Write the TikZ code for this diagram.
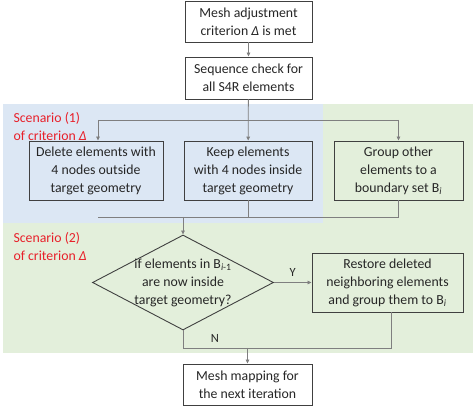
\documentclass[tikz,border=0pt]{standalone}
\usepackage{fontspec}
\setmainfont{Carlito}
\usetikzlibrary{shapes.geometric,arrows.meta}
\definecolor{bluebg}{HTML}{DCE7F4}
\definecolor{greenbg}{HTML}{E3EFDB}
\definecolor{boxline}{HTML}{404040}
\definecolor{conn}{HTML}{7F7F7F}
\definecolor{txt}{HTML}{262626}
\definecolor{redtxt}{HTML}{E8202A}
\tikzset{
  every node/.style={font=\fontsize{13.8}{18}\selectfont, text=txt},
  procbox/.style={draw=boxline, line width=0.9pt, align=center, inner sep=0pt},
  whitebox/.style={procbox, fill=white},
  decision/.style={draw=boxline, line width=0.9pt, diamond, aspect=1.9, inner sep=0pt, align=center},
  conline/.style={draw=conn, line width=0.8pt},
  conarrow/.style={conline, -{Triangle[length=4pt,width=3.6pt]}},
  scen/.style={text=redtxt, align=left, anchor=north west},
  lbl/.style={font=\fontsize{12.5}{15}\selectfont}
}
\begin{document}
\begin{tikzpicture}[x=1pt,y=-1pt]
\useasboundingbox (0,0) rectangle (474,411);
% backgrounds
\fill[greenbg] (3,104) rectangle (473,353);
\fill[bluebg] (3,104) rectangle (323,223);
% nodes
\node[whitebox, minimum width=127pt, minimum height=41pt] (start) at (248.5,21.5) {Mesh adjustment\\criterion \textit{Δ} is met};
\node[whitebox, minimum width=127pt, minimum height=42pt] (seq) at (248.5,78) {Sequence check for\\all S4R elements};
\node[procbox, minimum width=134pt, minimum height=59pt] (del) at (96,170.5) {Delete elements with\\4 nodes outside\\target geometry};
\node[procbox, minimum width=128pt, minimum height=59pt] (keep) at (248,170.5) {Keep elements\\with 4 nodes inside\\target geometry};
\node[procbox, minimum width=129pt, minimum height=59pt] (grp) at (398.5,170.5) {Group other\\elements to a\\boundary set B\textsubscript{\textit{i}}};
\node[decision, minimum width=181pt, minimum height=95pt] (dec) at (183,282.5) {};
\node[align=center] (dectxt) at (183,282.5) {if elements in B\textsubscript{\textit{i}-1}\\are now inside\\target geometry?};
\node[procbox, minimum width=151pt, minimum height=59pt] (res) at (387.5,282.5) {Restore deleted\\neighboring elements\\and group them to B\textsubscript{\textit{i}}};
\node[whitebox, minimum width=129pt, minimum height=41pt] (map) at (247.5,384.5) {Mesh mapping for\\the next iteration};
% scenario labels
\node[scen] (s1) at (10,108.5) {Scenario (1)\\of criterion \textit{Δ}};
\node[scen] (s2) at (10,228.5) {Scenario (2)\\of criterion \textit{Δ}};
% connectors
\draw[conarrow] (start) -- (seq);
\draw[conarrow] (seq) -- (keep);
\coordinate (sl) at (98,120);
\coordinate (sr) at (398.5,120);
\draw[conline] (sl) -- (sr);
\draw[conarrow] (sr) -- (grp.north);
\draw[conarrow] (sl) -- (sl |- del.north);
\coordinate (jl) at (98,217);
\coordinate (jr) at (398.5,217);
\coordinate (jm) at (183,217);
\draw[conline] (keep.south) -- (keep.south |- jl);
\draw[conline] (grp.south) -- (jr) -- (jl);
\draw[conarrow] (jm) -- (dec.north);
\draw[conarrow] (dec.east) -- node[lbl, above, pos=0.5, yshift=2pt] (ylab) {Y} (res.west);
\coordinate (bl) at (183,348);
\coordinate (br) at (391,348);
\coordinate (bm) at (247.5,348);
\draw[conline] (dec.south) -- (bl) -- (br) -- (br |- res.south);
\node[lbl] (nlab) at (215,338) {N};
\draw[conarrow] (bm) -- (map.north);
\end{tikzpicture}
\end{document}
